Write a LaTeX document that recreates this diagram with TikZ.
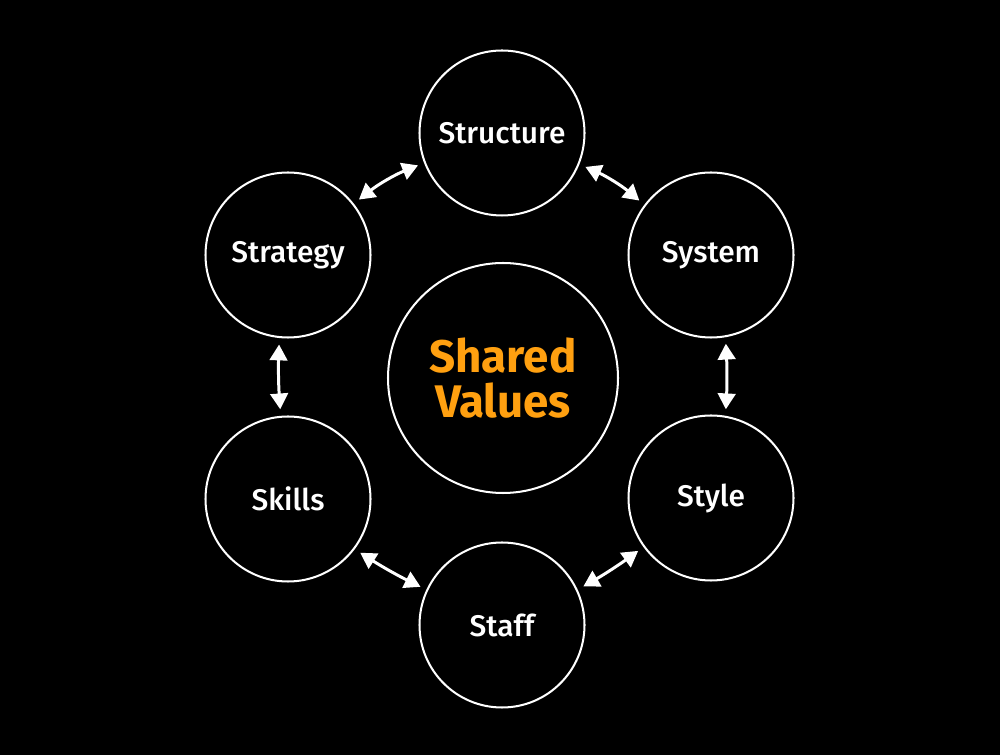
\documentclass[tikz,border=0pt]{standalone}
\usepackage{fontspec}
\setmainfont{Fira Sans}
\newfontfamily\labfont{Fira Sans}[UprightFont=* Medium]
\usetikzlibrary{arrows.meta}
\definecolor{orng}{HTML}{FFA010}
\begin{document}
\begin{tikzpicture}[x=0.2mm,y=-0.2mm,
  ring/.style={circle, draw=white, line width=1.15pt, minimum size=33mm, inner sep=0pt,
    text=white, font=\labfont\fontsize{17}{20}\selectfont},
  core/.style={circle, draw=white, line width=1.15pt, minimum size=46mm, inner sep=0pt,
    text=orng, align=center, font=\bfseries\fontsize{26}{25.5}\selectfont},
  link/.style={{Triangle[width=10pt,length=9pt]}-{Triangle[width=10pt,length=9pt]},
    white, line width=1.7pt, shorten <=1.3mm, shorten >=1.3mm}]
\fill[black] (0,0) rectangle (1000,755);
\node[ring] (struct) at (502,133) {Structure};
\node[ring] (strat) at (288,255) {Strategy};
\node[ring] (sys) at (711,255) {System};
\node[ring] (skills) at (288,499) {Skills};
\node[ring] (style) at (711,498) {Style};
\node[ring] (staff) at (502,625) {Staff};
\node[core] (shared) at (503,378) {Shared\\Values};
\draw[link] (strat.38) to[bend left=8] (struct.201);
\draw[link] (struct.-22) to[bend left=8] (sys.143);
\draw[link] (strat.-96) to[bend right=3] (skills.95);
\draw[link] (sys.-80) to[bend left=3] (style.80);
\draw[link] (skills.-37) to[bend right=3] (staff.155);
\draw[link] (staff.25) to[bend right=3] (style.216);
\end{tikzpicture}
\end{document}
